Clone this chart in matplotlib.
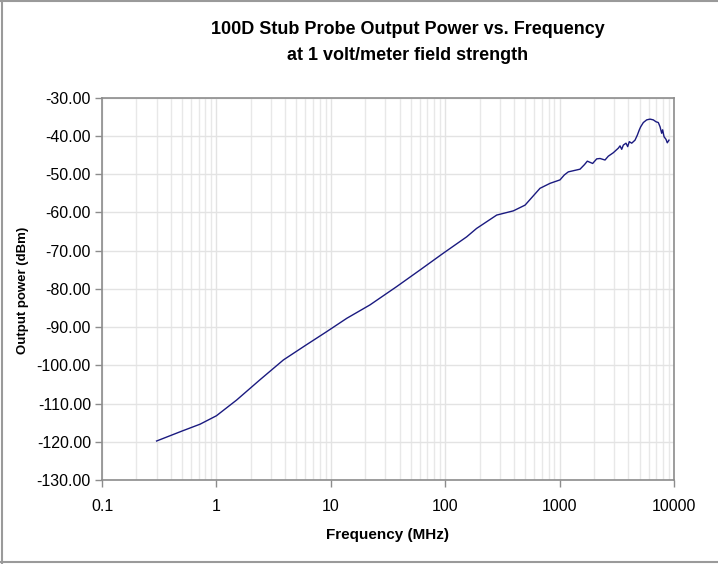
import matplotlib
matplotlib.use("Agg")
import matplotlib.pyplot as plt
from matplotlib.ticker import FixedLocator, FixedFormatter, LogLocator, NullFormatter
from matplotlib import font_manager
from matplotlib.lines import Line2D

names = {f.name for f in font_manager.fontManager.ttflist}
base = "Liberation Sans" if "Liberation Sans" in names else "DejaVu Sans"
plt.rcParams['font.family'] = [base, 'DejaVu Sans']

title_lines = ["100D Stub Probe Output Power vs. Frequency", "at 1 volt/meter field strength"]
x_label = "Frequency (MHz)"
y_label = "Output power (dBm)"

freq_mhz = [0.3, 0.5, 0.72, 1.0, 1.5, 2.4, 3.85, 6.0, 9.2, 13.8, 22, 37.7, 60, 96,
            154, 188, 282, 394, 499, 674, 825, 1008, 1100, 1192, 1508, 1650, 1747,
            1945, 2110, 2256, 2494, 2665, 2946, 3260, 3374, 3491, 3606, 3805, 3938,
            4066, 4268, 4563, 4779, 4977, 5117, 5393, 5770, 6169, 6594, 6966, 7295,
            7551, 7800, 7960, 8180, 8515, 8735, 9036]
power_dbm = [-119.8, -117.2, -115.4, -113.2, -109.1, -103.8, -98.6, -94.8, -91.2, -87.7,
             -84.2, -79.4, -75.1, -70.7, -66.4, -64.2, -60.7, -59.6, -58.1, -53.7,
             -52.4, -51.5, -50.2, -49.4, -48.7, -47.5, -46.6, -47.2, -46.0, -45.9,
             -46.3, -45.3, -44.4, -43.2, -42.6, -43.5, -42.4, -41.9, -42.8, -41.5,
             -41.9, -41.1, -39.8, -38.4, -37.6, -36.5, -35.8, -35.6, -35.8, -36.3,
             -36.5, -37.6, -39.3, -38.4, -40.2, -40.9, -41.8, -41.1]

y_ticks = [-130, -120, -110, -100, -90, -80, -70, -60, -50, -40, -30]
x_ticks = [0.1, 1, 10, 100, 1000, 10000]
x_tick_labels = ["0.1", "1", "10", "100", "1000", "10000"]

W, H = 718, 564
fig = plt.figure(figsize=(W / 100, H / 100), dpi=100)
ax = fig.add_axes([102 / W, (H - 480) / H, 572 / W, 382.3 / H])

ax.plot(freq_mhz, power_dbm, color="#1a1a80", lw=1.0, zorder=3)

ax.set_xscale("log")
ax.set_xlim(0.1, 10000)
ax.set_ylim(-130, -30)
ax.xaxis.set_major_locator(FixedLocator(x_ticks))
ax.xaxis.set_major_formatter(FixedFormatter(x_tick_labels))
ax.xaxis.set_minor_locator(LogLocator(base=10, subs=range(2, 10), numticks=20))
ax.xaxis.set_minor_formatter(NullFormatter())
ax.set_yticks(y_ticks)
ax.set_yticklabels([f"{v:.2f}" for v in y_ticks])

ax.grid(True, which="major", axis="both", color="#e3e3e3", lw=1.0, zorder=0)
ax.grid(True, which="minor", axis="x", color="#e8e8e8", lw=1.0, zorder=0)
ax.set_axisbelow(True)

for s in ax.spines.values():
    s.set_color("#8c8c8c")
    s.set_linewidth(1.2)

ax.tick_params(axis="both", which="major", direction="out", length=5, width=1,
               color="#8c8c8c", labelsize=11.5, labelcolor="black")
ax.tick_params(axis="y", which="major", pad=3)
ax.tick_params(axis="x", which="minor", length=0)
ax.tick_params(axis="x", which="major", pad=9)

ax.set_xlabel(x_label, fontsize=11, fontweight="bold", labelpad=10)

fig.text(23 / W, 1 - 290 / H, y_label, rotation=90, ha="center", va="center",
         fontsize=9.5, fontweight="bold")

fig.text(408 / W, 1 - 30 / H, title_lines[0], ha="center", va="center",
         fontsize=13, fontweight="bold")
fig.text(408 / W, 1 - 56 / H, title_lines[1], ha="center", va="center",
         fontsize=13, fontweight="bold")

# figure border
bc = "#9a9a9a"
fig.add_artist(Line2D([1.5 / W, 1.5 / W], [0, 1], color=bc, lw=1.5, transform=fig.transFigure))
fig.add_artist(Line2D([0, 1], [1 - 0.8 / H, 1 - 0.8 / H], color=bc, lw=1.5, transform=fig.transFigure))
fig.add_artist(Line2D([0, 1], [1.8 / H, 1.8 / H], color=bc, lw=1.5, transform=fig.transFigure))

fig.savefig("out.png", dpi=100)
